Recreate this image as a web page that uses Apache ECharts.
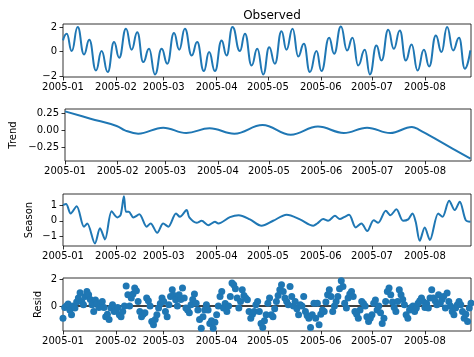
<!DOCTYPE html>
<html><head><meta charset="utf-8">
<script src="https://cdn.jsdelivr.net/npm/echarts@6/dist/echarts.min.js"></script>
<style>html,body{margin:0;padding:0;background:#fff}#c{width:474px;height:357px}</style>
</head><body><div id="c"></div>
<script>
// x positions are days since 2005-01-01
const monthStarts = [0, 31, 59, 90, 120, 151, 181, 212];
const monthLabels = ['2005-01','2005-02','2005-03','2005-04','2005-05','2005-06','2005-07','2005-08'];

// Observed: turning points (day, value)
const obsDay = [0,2.2,5.1,8.6,12.3,15.4,19.3,22.6,26.2,29.9,32.9,36.9,40.2,43.5,47,50.4,53.9,57.8,61.1,65,68.1,71.4,75.4,78.6,82.5,85.6,89,92.9,95.8,99.3,103.6,106.6,110.5,113.8,117.3,120.8,124.1,128,130.9,134.5,137.8,141.1,144.6,148.5,151.4,155.9,158.8,162.8,166.4,169.6,172.9,176.8,179.8,183.6,186.6,190.5,193.8,197.3,200.8,204.2,207.7,211.4,214.5,218.4,221.7,225,228.5,232,235.4,238.6];
const obsVal = [0.92,1.46,0.05,2.0,-0.22,0.97,-1.52,0.05,-1.65,0.78,-0.49,1.87,0.16,1.59,-0.84,0.24,-1.84,0.24,-0.97,1.51,0.16,1.87,-0.3,0.78,-1.57,-0.03,-1.57,0.92,-0.3,2.0,0.05,1.46,-1.11,0.24,-1.84,0.37,-0.97,1.67,0.16,1.87,-0.38,0.65,-1.65,0.05,-1.57,1.14,-0.16,2.05,0.11,1.14,-1.11,0.16,-1.84,0.51,-0.71,1.78,0.24,1.73,-0.71,0.59,-1.52,0.16,-1.19,1.32,-0.03,2.0,0.11,1.14,-1.38,0.11];

// Trend
const trendDay = [0,15,30.4,35.3,43.1,57.8,71.4,85.1,99.7,116.3,132.9,148.9,164.1,177.8,191.5,204.2,208,223,238.7];
const trendVal = [0.284,0.175,0.066,0.0,-0.05,0.04,-0.04,0.03,-0.05,0.08,-0.066,0.056,-0.04,0.04,-0.04,0.05,0.015,-0.2,-0.426];

// Season
const seasonDay = [0,1.8,4.5,8,12.3,14.2,18.7,21.7,24.6,28.5,31.8,33.8,35.7,36.9,38.5,41.2,44.7,49,51.3,55.2,58.7,61.7,66.2,68.5,72.4,74,78.3,81.2,85.1,89,91,97.8,102.9,109.5,116.3,123.1,131,138.8,146.6,148.9,152.4,155.3,159.3,162.1,165,167.6,171.5,174.8,178.2,182,184.6,189.1,191.8,195.3,199.2,202.2,204.7,206.6,209,211.9,214.9,219.8,222.3,226.2,229.5,232.4,235.9,238.7];
const seasonVal = [1.03,1.10,0.48,0.96,-0.39,-0.18,-1.49,-0.5,-1.23,0.62,0.22,0.4,1.62,0.59,0.6,0.22,0.42,-0.39,-0.18,-0.79,-0.18,-0.39,0.48,0.26,0.70,0.22,-0.13,0.0,-0.29,-0.07,-0.18,0.24,0.37,0.09,-0.33,0.0,0.39,0.09,-0.33,-0.18,0.11,0.0,0.33,0.11,0.26,0.39,-0.44,-0.18,-0.68,0.04,-0.13,0.66,0.37,0.75,0.0,0.09,0.48,-0.07,-1.32,-0.44,-1.27,0.48,0.26,1.32,0.70,1.25,0.04,-0.07];

// Residual, one value per day (day 0 .. 239)
const residVal = [-0.9,-0.1,0.0,0.15,-0.3,-0.65,0.0,-0.15,0.3,0.6,1.0,0.35,0.1,0.72,1.1,0.85,0.5,0.1,-0.4,0.45,0.2,-0.1,0.2,0.35,-0.1,-0.8,-0.6,-1.0,-0.15,0.1,-0.4,-0.3,-0.1,-0.65,-0.8,-0.4,0.0,1.5,0.85,0.0,0.6,0.9,1.35,1.15,0.35,-0.4,-0.8,-0.6,-0.5,0.6,0.4,0.0,-1.15,-1.4,-1.0,-0.65,-0.15,0.2,0.6,0.35,-0.4,-0.8,0.1,0.72,1.22,0.8,0.47,0.0,0.85,0.5,1.35,0.6,-0.15,-0.3,-0.5,0.1,0.5,0.9,0.22,-0.3,-1.0,-1.65,-0.8,-0.3,0.1,-0.3,-1.3,-1.1,-1.65,-1.2,-0.65,0.0,0.72,1.1,-0.15,0.2,-0.4,0.0,0.72,1.72,1.6,1.3,0.6,-0.15,0.35,1.22,0.8,0.6,0.47,-0.4,-0.9,-0.6,-0.4,0.1,0.35,-0.4,-1.3,-1.6,-1.1,-0.65,0.22,0.6,-0.65,-0.8,-0.2,0.35,0.8,1.22,1.6,1.1,0.6,0.35,0.1,1.47,0.72,0.0,0.35,-0.2,-0.65,0.1,0.0,0.72,-0.4,-0.7,-0.9,-1.6,-0.65,0.22,-0.9,0.22,-1.4,-0.6,-0.3,-0.4,0.3,0.85,1.22,0.72,-0.4,0.0,0.35,0.72,1.3,1.9,1.47,0.22,-0.15,0.6,0.9,1.1,0.72,-0.4,-0.6,-0.9,-0.3,0.35,0.2,0.0,-0.8,-1.15,-0.9,-0.65,0.22,0.45,-0.3,0.0,-0.5,-1.3,-0.9,0.35,1.1,1.35,0.85,0.3,-0.1,-0.4,0.35,1.22,0.85,0.5,0.1,-0.65,-0.9,-0.3,-0.1,0.0,-0.4,-0.15,0.22,0.4,0.6,0.35,-0.1,0.2,-0.15,0.6,1.22,0.6,0.4,0.1,0.85,0.22,0.5,0.72,-0.15,0.97,0.35,0.0,-0.4,-0.65,-0.15,0.1,0.35,0.1,-0.4,-0.9,-0.6,-1.15,-0.15,0.22];

const yTicks = [[-2,0,2],[-0.25,0,0.25],[-1,0,1],[0,2]];
const yLabels = [['\u22122','0','2'],['\u22120.25','0.00','0.25'],['\u22121','0','1'],['0','2']];
const yNames = ['', 'Trend', 'Season', 'Resid'];

const FONT = 'DejaVu Sans';
const BLUE = '#1f77b4';
const gridTops = [24, 109, 194, 278];
const gridHeights = [53, 52, 52, 53];
const yRanges = [[-2.05, 2.25], [-0.46, 0.32], [-1.66, 1.76], [-1.86, 2.1]];
const nameGaps = [0, 47, 29, 20];

const grids = [], xAxes = [], yAxes = [];
for (let i = 0; i < 4; i++) {
  grids.push({left: 63, width: 408, top: gridTops[i], height: gridHeights[i], show: true, borderColor: '#000', borderWidth: 0.8, containLabel: false});
  xAxes.push({
    type: 'value', gridIndex: i, min: 0, max: 239,
    axisLine: {show: false, onZero: false}, splitLine: {show: false},
    axisTick: {show: true, inside: false, length: 3.5, lineStyle: {color: '#000', width: 0.8}, customValues: monthStarts},
    axisLabel: {customValues: monthStarts, margin: 5, fontSize: 10, fontFamily: FONT, color: '#000',
      formatter: v => monthLabels[monthStarts.indexOf(v)]}
  });
  const tk = yTicks[i], lb = yLabels[i];
  yAxes.push({
    type: 'value', gridIndex: i, min: yRanges[i][0], max: yRanges[i][1],
    axisLine: {show: false, onZero: false}, splitLine: {show: false},
    axisTick: {show: true, inside: false, length: 3.5, lineStyle: {color: '#000', width: 0.8}, customValues: tk},
    axisLabel: {customValues: tk, margin: 6, fontSize: 10, fontFamily: FONT, color: '#000',
      formatter: v => lb[tk.indexOf(v)]},
    name: yNames[i], nameLocation: 'middle', nameGap: nameGaps[i], nameMoveOverlap: false,
    nameTextStyle: {fontSize: 10, fontFamily: FONT, color: '#000'}
  });
}

const zip = (a, b) => a.map((d, i) => [d, b[i]]);

const option = {
  animation: false,
  backgroundColor: '#fff',
  title: {text: 'Observed', left: 267, top: 5, textAlign: 'center',
    textStyle: {fontSize: 12, fontWeight: 'normal', fontFamily: FONT, color: '#000'}},
  grid: grids, xAxis: xAxes, yAxis: yAxes,
  series: [
    {type: 'line', xAxisIndex: 0, yAxisIndex: 0, data: zip(obsDay, obsVal), showSymbol: false,
      smooth: 0.5, smoothMonotone: 'x', lineStyle: {color: BLUE, width: 2}, itemStyle: {color: BLUE}},
    {type: 'line', xAxisIndex: 1, yAxisIndex: 1, data: zip(trendDay, trendVal), showSymbol: false,
      smooth: 0.4, lineStyle: {color: BLUE, width: 2}, itemStyle: {color: BLUE}},
    {type: 'line', xAxisIndex: 2, yAxisIndex: 2, data: zip(seasonDay, seasonVal), showSymbol: false,
      smooth: 0.3, lineStyle: {color: BLUE, width: 2}, itemStyle: {color: BLUE}},
    {type: 'scatter', xAxisIndex: 3, yAxisIndex: 3, data: residVal.map((v, i) => [i, v]),
      symbolSize: 7, itemStyle: {color: BLUE, opacity: 1}, z: 3,
      markLine: {silent: true, symbol: 'none', z: 1, label: {show: false},
        lineStyle: {color: '#000', width: 1.5, type: 'solid'}, data: [{yAxis: 0}]}}
  ]
};
const chart = echarts.init(document.getElementById('c'), null, {renderer: 'canvas'});
chart.setOption(option);
</script></body></html>
